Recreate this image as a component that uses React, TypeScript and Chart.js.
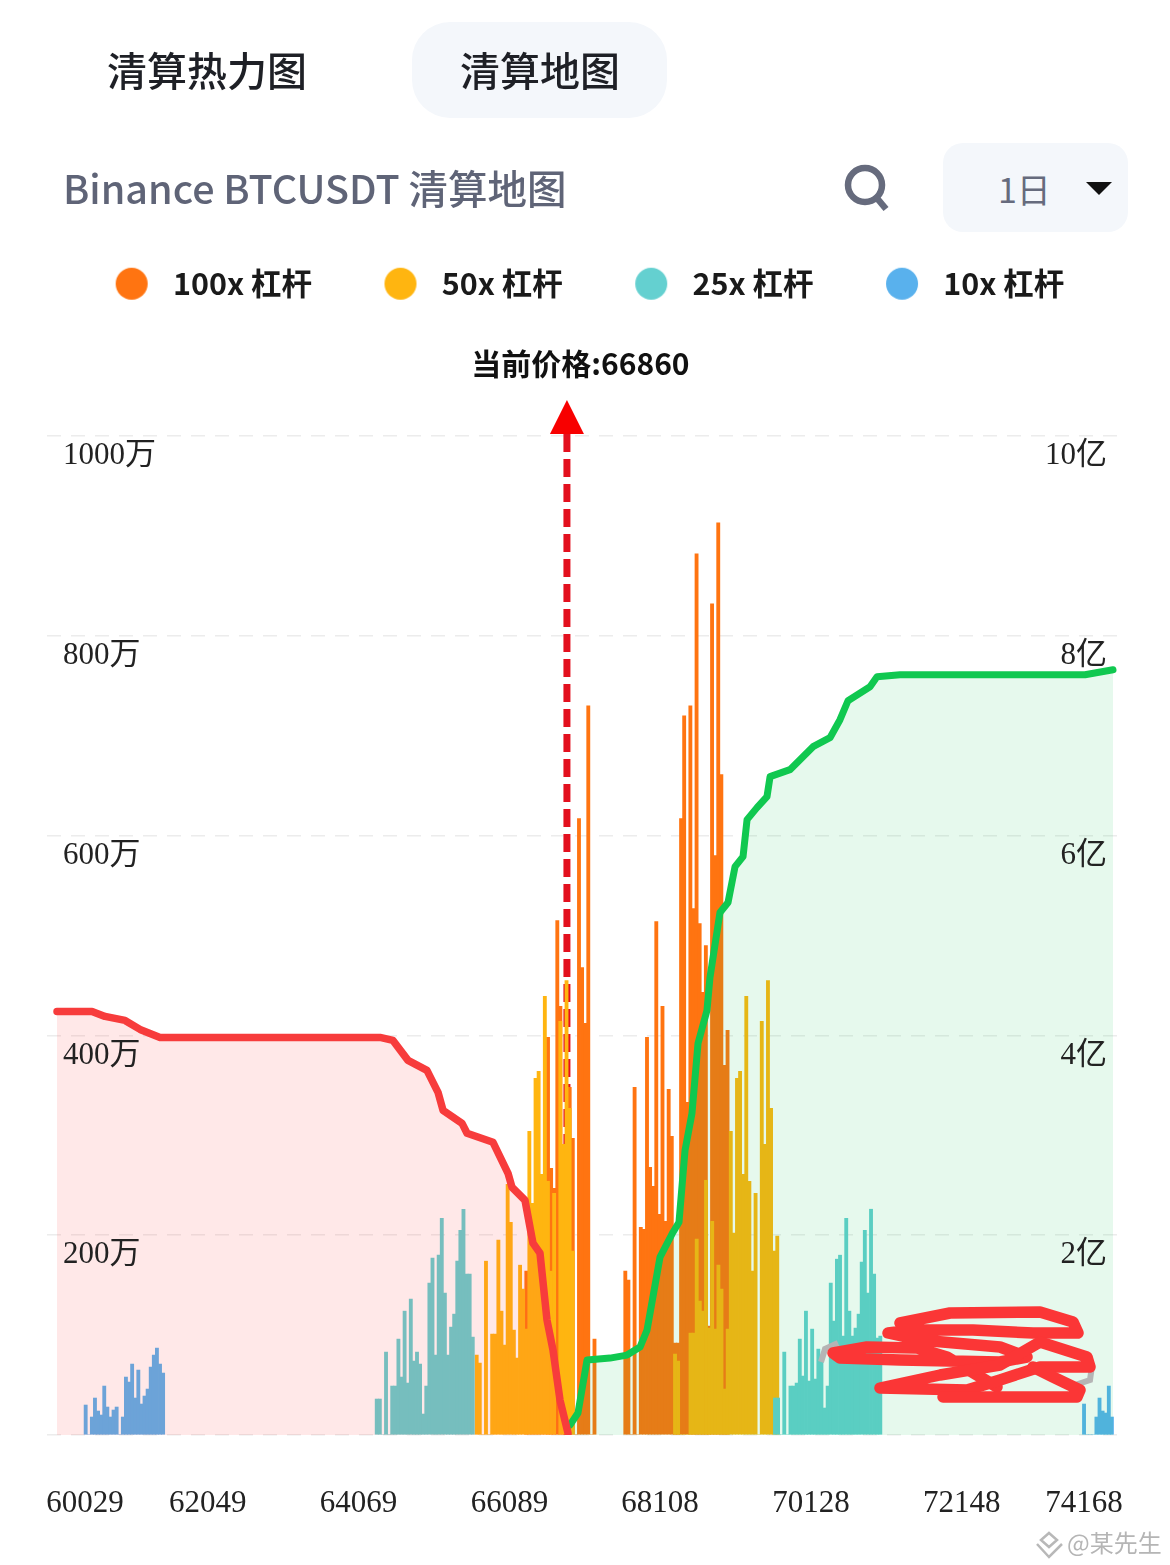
import React, { useEffect, useRef } from "react";
import { Chart, registerables } from "chart.js";

Chart.register(...registerables);

const binWidth = 41.5;
const currentPrice = 66860;
const currentPriceLabel = "当前价格:66860";

const xTickLabels = ["60029", "62049", "64069", "66089", "68108", "70128", "72148", "74168"];
const xTickPositions = [60404, 62049, 64069, 66089, 68108, 70128, 72148, 73787];
const leftTicksUnit = "万";
const rightTicksUnit = "亿";

const blueLeftStart = 60413;
const blueLeft = [30, 0, 18, 37, 24, 20, 49, 28, 18, 25, 28, 0, 18, 58, 53, 71, 37, 65, 31, 39, 46, 68, 80, 87, 71, 62];
const blueRightStart = 73787;
const blueRight = [31, 0, 0, 0, 18, 37, 24, 22, 49, 18];

const tealLeftStart = 64312;
const tealLeft = [36, 36, 0, 83, 0, 49, 49, 96, 58, 124, 52, 136, 74, 83, 71, 21, 49, 152, 177, 80, 180, 217, 142, 80, 108, 121, 174, 205, 226, 161, 161, 98];
const tealRightStart = 69647;
const tealRight = [37, 37, 0, 83, 0, 49, 49, 52, 96, 59, 124, 54, 106, 56, 86, 80, 27, 49, 152, 114, 176, 180, 99, 217, 124, 99, 107, 121, 173, 205, 142, 226, 161, 97, 99];

const yellowLeftStart = 65651;
const yellowLeft = [80, 72, 0, 174, 0, 101, 101, 195, 124, 90, 251, 213, 105, 77, 170, 146, 106, 304, 232, 357, 364, 261, 439, 254, 164, 242, 0, 414, 291, 455, 327, 184];
const yellowRightStart = 68308;
const yellowRight = [81, 74, 0, 0, 0, 102, 102, 196, 134, 124, 255, 107, 214, 106, 170, 146, 46, 106, 304, 202, 357, 364, 261, 439, 254, 164, 242, 0, 414, 291, 455, 327, 184, 199];

const orangeLeftStart = 66316;
const orangeLeft = [164, 0, 0, 0, 0, 0, 0, 398, 267, 247, 515, 429, 0, 0, 348, 297, 0, 617, 468, 412, 730, 0, 96];
const orangeRightStart = 67642;
const orangeRight = [164, 155, 0, 348, 0, 208, 206, 398, 268, 249, 514, 221, 429, 214, 346, 299, 92, 92, 617, 720, 333, 730, 527, 882, 512, 443, 490, 109, 832, 580, 913, 661, 370, 405];

const redPrices = [60029, 60498, 60672, 60940, 61141, 61409, 64356, 64530, 64731, 64985, 65133, 65200, 65455, 65522, 65870, 66071, 66124, 66298, 66405, 66499, 66593, 66673, 66767, 66874];
const redValues = [4.24, 4.24, 4.19, 4.15, 4.06, 3.98, 3.98, 3.95, 3.75, 3.65, 3.43, 3.25, 3.12, 3.02, 2.93, 2.62, 2.48, 2.35, 1.92, 1.82, 1.15, 0.85, 0.35, 0.02];

const greenPrices = [66901, 67008, 67129, 67437, 67665, 67839, 67933, 68107, 68281, 68361, 68442, 68535, 68616, 68736, 68776, 68910, 69018, 69112, 69219, 69273, 69406, 69540, 69581, 69848, 70157, 70384, 70518, 70625, 70920, 71014, 71322, 73800, 74175];
const greenValues = [0.1, 0.22, 0.75, 0.77, 0.8, 0.88, 1.05, 1.78, 2.03, 2.13, 2.85, 3.22, 3.92, 4.25, 4.58, 5.23, 5.33, 5.69, 5.79, 6.16, 6.28, 6.39, 6.59, 6.66, 6.89, 6.98, 7.16, 7.35, 7.49, 7.59, 7.61, 7.61, 7.66];

const tabs = ["清算热力图", "清算地图"];
const titleText = "Binance BTCUSDT 清算地图";
const intervalText = "1日";
const legend100 = "100x 杠杆";
const legend50 = "50x 杠杆";
const legend25 = "25x 杠杆";
const legend10 = "10x 杠杆";
const watermark = "@某先生";

const ORANGE = "#ff7411";
const YELLOW = "#ffb510";
const TEAL = "#64d0d0";
const BLUE = "#59b1ed";
const CJK = '"Noto Sans CJK SC", "Noto Sans", sans-serif';
const SERIF = '"Liberation Serif", "Noto Sans CJK SC", serif';

const bins = (start: number, values: number[]) =>
  values.map((y, i) => ({ x: start + i * binWidth, y }));
const line = (xs: number[], ys: number[]) => xs.map((x, i) => ({ x, y: ys[i] }));

const barBase = { grouped: false, barThickness: 3.2, borderWidth: 0, yAxisID: "left" };

const circleIcon = (color: string) => {
  const c = document.createElement("canvas");
  c.width = 34;
  c.height = 34;
  const g = c.getContext("2d") as CanvasRenderingContext2D;
  g.fillStyle = color;
  g.beginPath();
  g.arc(17, 17, 16, 0, Math.PI * 2);
  g.fill();
  return c;
};

const currentPricePlugin = {
  id: "currentPrice",
  beforeDatasetsDraw(chart: any) {
    const { ctx, scales, chartArea } = chart;
    const x = scales.x.getPixelForValue(currentPrice);
    ctx.save();
    ctx.strokeStyle = "#e3101e";
    ctx.lineWidth = 7;
    ctx.setLineDash([18, 7]);
    ctx.beginPath();
    ctx.moveTo(x, chartArea.top - 2);
    ctx.lineTo(x, chartArea.bottom);
    ctx.stroke();
    ctx.restore();
  },
  afterDraw(chart: any) {
    const { ctx, scales, chartArea } = chart;
    const x = scales.x.getPixelForValue(currentPrice);
    const t = chartArea.top;
    ctx.save();
    ctx.fillStyle = "#f80000";
    ctx.beginPath();
    ctx.moveTo(x, t - 36);
    ctx.lineTo(x + 17, t - 2);
    ctx.lineTo(x - 17, t - 2);
    ctx.closePath();
    ctx.fill();
    ctx.fillStyle = "#111";
    ctx.font = `bold 30px ${CJK}`;
    ctx.textAlign = "center";
    ctx.textBaseline = "middle";
    ctx.fillText(currentPriceLabel, x + 13.5, t - 72);
    ctx.restore();
  },
};

const legendMarginPlugin = {
  id: "legendMargin",
  beforeInit(chart: any) {
    const fit = chart.legend.fit;
    chart.legend.fit = function () {
      const mw = this.maxWidth;
      this.maxWidth = mw + 60;
      fit.bind(chart.legend)();
      this.maxWidth = mw;
      this.width = mw;
      this.height += 127;
    };
  },
  afterLayout(chart: any) {
    chart.legend.left -= 30;
    chart.legend.right += 30;
  },
};

export default function App() {
  const ref = useRef<HTMLCanvasElement>(null);
  useEffect(() => {
    document.body.style.margin = "0";
    const chart = new Chart(ref.current as HTMLCanvasElement, {
      type: "bar",
      data: {
        datasets: [
          { ...barBase, type: "bar", label: legend100, order: 5, backgroundColor: ORANGE, data: [...bins(orangeLeftStart, orangeLeft), ...bins(orangeRightStart, orangeRight)] },
          { ...barBase, type: "bar", label: legend50, order: 4, backgroundColor: YELLOW, data: [...bins(yellowLeftStart, yellowLeft), ...bins(yellowRightStart, yellowRight)] },
          { ...barBase, type: "bar", label: legend25, order: 3, backgroundColor: TEAL, data: [...bins(tealLeftStart, tealLeft), ...bins(tealRightStart, tealRight)] },
          { ...barBase, type: "bar", label: legend10, order: 3, backgroundColor: BLUE, data: [...bins(blueLeftStart, blueLeft), ...bins(blueRightStart, blueRight)] },
          { type: "line", label: "short", order: 1, yAxisID: "right", data: line(redPrices, redValues), borderColor: "#f73c3c", borderWidth: 7.5, borderJoinStyle: "round", borderCapStyle: "round", pointRadius: 0, tension: 0, fill: "origin", backgroundColor: "rgba(255,60,60,0.118)" },
          { type: "line", label: "long", order: 1, yAxisID: "right", data: line(greenPrices, greenValues), borderColor: "#10c850", borderWidth: 7, borderJoinStyle: "round", borderCapStyle: "round", pointRadius: 0, tension: 0, fill: "origin", backgroundColor: "rgba(14,200,80,0.1)" },
        ] as any,
      },
      plugins: [currentPricePlugin, legendMarginPlugin],
      options: {
        responsive: false,
        animation: false,
        devicePixelRatio: 1,
        events: [],
        layout: { padding: { left: 47, right: 47, top: 206, bottom: 0 } },
        plugins: {
          tooltip: { enabled: false },
          legend: {
            display: true,
            position: "top",
            labels: {
              usePointStyle: true,
              pointStyleWidth: 52,
              boxHeight: 22.6,
              padding: 62.5,
              color: "#1a1a1a",
              font: { family: CJK, size: 30.5, weight: "bold" },
              generateLabels: (c: any) =>
                Chart.defaults.plugins.legend.labels
                  .generateLabels(c)
                  .filter((item: any) => String(item.text).includes("杠杆"))
                  .sort((a: any, b: any) => a.datasetIndex - b.datasetIndex)
                  .map((item: any) => ({ ...item, pointStyle: circleIcon(item.fillStyle) })),
            },
          },
        },
        scales: {
          x: {
            type: "linear",
            min: 59895,
            max: 74309,
            offset: false,
            grid: { display: false },
            border: { display: false },
            afterFit: (s: any) => { s.height = 130; s.paddingLeft = 0; s.paddingRight = 0; },
            afterBuildTicks: (s: any) => { s.ticks = xTickPositions.map((value) => ({ value })); },
            ticks: {
              autoSkip: false,
              maxRotation: 0,
              padding: 42,
              color: "#222",
              font: { family: SERIF, size: 31 },
              callback: (_v: any, i: number) => xTickLabels[i],
            },
          },
          left: {
            position: "left",
            min: 0,
            max: 1000,
            afterFit: (s: any) => { s.width = 0; },
            border: { display: false, dash: [14, 10] },
            grid: { color: "#ececec", lineWidth: 1.5, drawTicks: false },
            ticks: {
              stepSize: 200,
              mirror: true,
              padding: 16,
              labelOffset: 20,
              z: 1,
              color: "#222",
              font: { family: SERIF, size: 31 },
              callback: (v: any) => (v ? `${v}${leftTicksUnit}` : ""),
            },
          },
          right: {
            position: "right",
            min: 0,
            max: 10,
            afterFit: (s: any) => { s.width = 0; },
            border: { display: false },
            grid: { display: false },
            ticks: {
              stepSize: 2,
              mirror: true,
              padding: -16,
              labelOffset: 20,
              z: 1,
              color: "#222",
              font: { family: SERIF, size: 31 },
              callback: (v: any) => (v ? `${v}${rightTicksUnit}` : ""),
            },
          },
        },
      } as any,
    });
    return () => chart.destroy();
  }, []);

  const abs = (o: React.CSSProperties): React.CSSProperties => ({ position: "absolute", whiteSpace: "nowrap", ...o });

  return (
    <div style={{ position: "absolute", left: 0, top: 0, width: 1170, height: 1565, background: "#fff", overflow: "hidden" }}>
      <canvas ref={ref} width={1170} height={1565} style={{ position: "absolute", left: 0, top: 0, width: 1170, height: 1565 }} />
      <div style={abs({ left: 412, top: 22, width: 255, height: 96, borderRadius: 38, background: "#f4f7fb" })} />
      <div style={abs({ left: 107, top: 40, fontFamily: CJK, fontSize: 40, fontWeight: 500, color: "#1e2026", lineHeight: "58px" })}>{tabs[0]}</div>
      <div style={abs({ left: 460, top: 40, fontFamily: CJK, fontSize: 40, fontWeight: 500, color: "#1e2026", lineHeight: "58px" })}>{tabs[1]}</div>
      <div style={abs({ left: 63, top: 158, fontFamily: CJK, fontSize: 39.5, fontWeight: 500, color: "#5f6477", lineHeight: "58px" })}>{titleText}</div>
      <svg style={abs({ left: 840, top: 160, width: 56, height: 56 })} viewBox="0 0 56 56">
        <circle cx="25" cy="25" r="17" fill="none" stroke="#666b7d" strokeWidth="6.5" />
        <line x1="36" y1="37" x2="46" y2="49" stroke="#666b7d" strokeWidth="6.5" />
      </svg>
      <div style={abs({ left: 943, top: 143, width: 185, height: 89, borderRadius: 20, background: "#f4f7fb" })} />
      <div style={abs({ left: 998, top: 160, fontFamily: CJK, fontSize: 34, color: "#666b7d", lineHeight: "58px" })}>{intervalText}</div>
      <svg style={abs({ left: 1086, top: 182, width: 26, height: 13 })} viewBox="0 0 26 13">
        <polygon points="0,0 26,0 13,13" fill="#111" />
      </svg>
      <svg style={abs({ left: 0, top: 0, width: 1170, height: 1565 })} viewBox="0 0 1170 1565" fill="none">
        <polyline points="821,1362 825,1349 838,1343" stroke="#b5b5b5" strokeWidth="6" />
        <polyline points="1092,1366 1090,1380 1075,1385" stroke="#b5b5b5" strokeWidth="6" />
        <g stroke="#fb3636" strokeWidth="11.5" strokeLinejoin="round" strokeLinecap="round">
          <polyline points="900,1323 950,1313 1040,1312 1073,1322 1078,1333 1033,1333 973,1330 913,1330 888,1333 920,1340 1000,1347 1027,1357 1000,1362 900,1360 840,1358 833,1353 867,1347 917,1348 947,1357 997,1387" />
          <polyline points="880,1388 940,1375 1000,1365 1040,1342 1087,1357 1090,1367 1040,1367 1000,1380 967,1390 880,1388" />
          <polyline points="943,1397 1077,1397 1080,1390 1053,1377 1033,1367" />
        </g>
        <g stroke="#b8b8b8" strokeWidth="2.5">
          <polygon points="1049,1533 1057,1540 1049,1547 1041,1540" />
          <polyline points="1037,1544 1049,1557 1062,1544" />
        </g>
      </svg>
      <div style={abs({ left: 1067, top: 1524, fontFamily: CJK, fontSize: 24, color: "#b5b5b5", lineHeight: "36px" })}>{watermark}</div>
    </div>
  );
}
